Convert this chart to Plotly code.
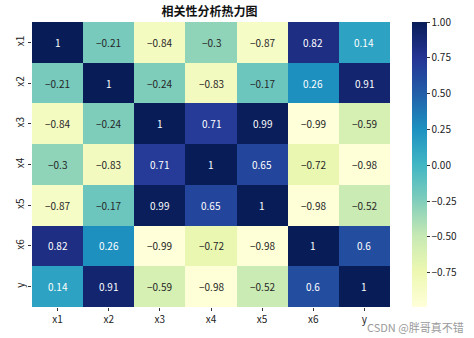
import plotly.graph_objects as go

# Correlation matrix of the variables
labels = ["x1", "x2", "x3", "x4", "x5", "x6", "y"]
corr = [
    [1, -0.21, -0.84, -0.3, -0.87, 0.82, 0.14],
    [-0.21, 1, -0.24, -0.83, -0.17, 0.26, 0.91],
    [-0.84, -0.24, 1, 0.71, 0.99, -0.99, -0.59],
    [-0.3, -0.83, 0.71, 1, 0.65, -0.72, -0.98],
    [-0.87, -0.17, 0.99, 0.65, 1, -0.98, -0.52],
    [0.82, 0.26, -0.99, -0.72, -0.98, 1, 0.6],
    [0.14, 0.91, -0.59, -0.98, -0.52, 0.6, 1],
]
cbar_ticks = [1.0, 0.75, 0.5, 0.25, 0.0, -0.25, -0.5, -0.75]

ylgnbu = ["#ffffd9", "#edf8b1", "#c7e9b4", "#7fcdbb", "#41b6c4",
          "#1d91c0", "#225ea8", "#253494", "#081d58"]
zmin = min(min(r) for r in corr)
zmax = max(max(r) for r in corr)
cscale = [[i / (len(ylgnbu) - 1), c] for i, c in enumerate(ylgnbu)]

FONT = "Noto Sans CJK SC"


def fmt(v):
    s = f"{v:g}"
    return s.replace("-", "\u2212")


fig = go.Figure(go.Heatmap(
    z=corr, x=labels, y=labels,
    colorscale=cscale, zmin=zmin, zmax=zmax,
    xgap=0, ygap=0,
    colorbar=dict(
        x=1.061, xanchor="left", xpad=0, y=0.5, yanchor="middle",
        len=1.0, lenmode="fraction", thickness=15, ypad=0,
        outlinewidth=0,
        tickvals=cbar_ticks,
        ticktext=[f"{t:.2f}".replace("-", "\u2212") for t in cbar_ticks],
        ticks="outside", ticklen=3, tickcolor="#333",
        tickfont=dict(family=FONT, size=10, color="#222"),
    ),
    hoverinfo="skip",
))

annotations = []
for i, row in enumerate(corr):
    for j, v in enumerate(row):
        frac = (v - zmin) / (zmax - zmin)
        color = "white" if frac > 0.5 else "#262626"
        annotations.append(dict(
            x=labels[j], y=labels[i], text=fmt(v), showarrow=False,
            font=dict(family=FONT, size=10, color=color),
        ))

annotations.append(dict(
    x=1.0, y=0, xref="paper", yref="paper", xanchor="right", yanchor="top",
    text="CSDN @胖哥真不错", showarrow=False, xshift=76, yshift=-10,
    font=dict(family=FONT, size=11, color="#9a9a9a"),
))

fig.update_layout(
    width=474, height=338,
    margin=dict(l=29, r=84, t=22, b=28),
    paper_bgcolor="white", plot_bgcolor="white",
    title=dict(text="<b>相关性分析热力图</b>", x=(29 + 390) / 2 / 474, xanchor="center",
               y=1 - 12 / 338, yanchor="middle",
               font=dict(family=FONT, size=12, color="#111")),
    annotations=annotations,
    xaxis=dict(showgrid=False, ticks="outside", ticklen=3, tickcolor="#333",
               tickfont=dict(family=FONT, size=10, color="#222"), zeroline=False),
    yaxis=dict(showgrid=False, ticks="outside", ticklen=3, tickcolor="#333",
               autorange="reversed", tickangle=-90,
               tickfont=dict(family=FONT, size=10, color="#222"), zeroline=False),
)

fig.write_html("out.html")
